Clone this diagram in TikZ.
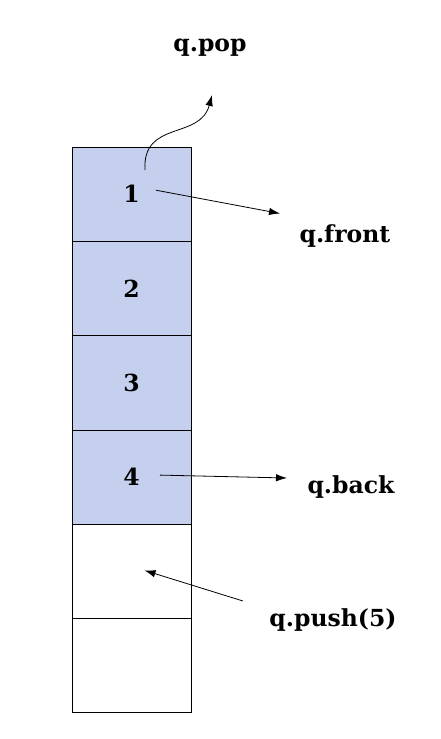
\documentclass[tikz,border=0pt]{standalone}
\usepackage{fontspec}
\setmainfont{DejaVu Serif}
\usepackage{xcolor}
\usetikzlibrary{arrows.meta}
\definecolor{cellblue}{RGB}{196,208,238}

\begin{document}
\begin{tikzpicture}[
  x=1pt, y=-1pt,
  >={Latex[length=11pt, width=7.5pt]},
  every node/.style={font=\fontsize{23.5}{26}\selectfont\bfseries},
  cell/.style={draw, line width=0.8pt, minimum width=119pt, minimum height=94.3pt, inner sep=0pt},
  lab/.style={inner sep=0pt},
  arr/.style={->, line width=0.8pt}
]
\useasboundingbox (0,0) rectangle (440,739);

% Queue cells
\node[cell, fill=cellblue] (c1) at (131.5, 194.2) {1};
\node[cell, fill=cellblue] (c2) at (131.5, 288.5) {2};
\node[cell, fill=cellblue] (c3) at (131.5, 382.8) {3};
\node[cell, fill=cellblue] (c4) at (131.5, 477.1) {4};
\node[cell] (c5) at (131.5, 571.4) {};
\node[cell] (c6) at (131.5, 665.7) {};

% Labels
\node[lab] (pop) at (210, 48) {q.pop};
\node[lab] (front) at (345, 236) {q.front};
\node[lab] (back) at (351, 487) {q.back};
\node[lab] (push) at (333, 620) {q.push(5)};

% Arrow ends
\coordinate (popend) at (212, 95);
\coordinate (frontend) at (280, 213.5);
\coordinate (backend) at (287, 478);
\coordinate (pushstart) at (243, 601);

\draw[arr] ([xshift=13.5pt, yshift=24pt]c1.center) .. controls (142, 120) and (200, 140) .. (popend);
\draw[arr] ([xshift=24.5pt, yshift=4pt]c1.center) -- (frontend);
\draw[arr] ([xshift=28.5pt, yshift=2pt]c4.center) -- (backend);
\draw[arr] (pushstart) -- ([xshift=13pt, yshift=1pt]c5.center);

\end{tikzpicture}
\end{document}
